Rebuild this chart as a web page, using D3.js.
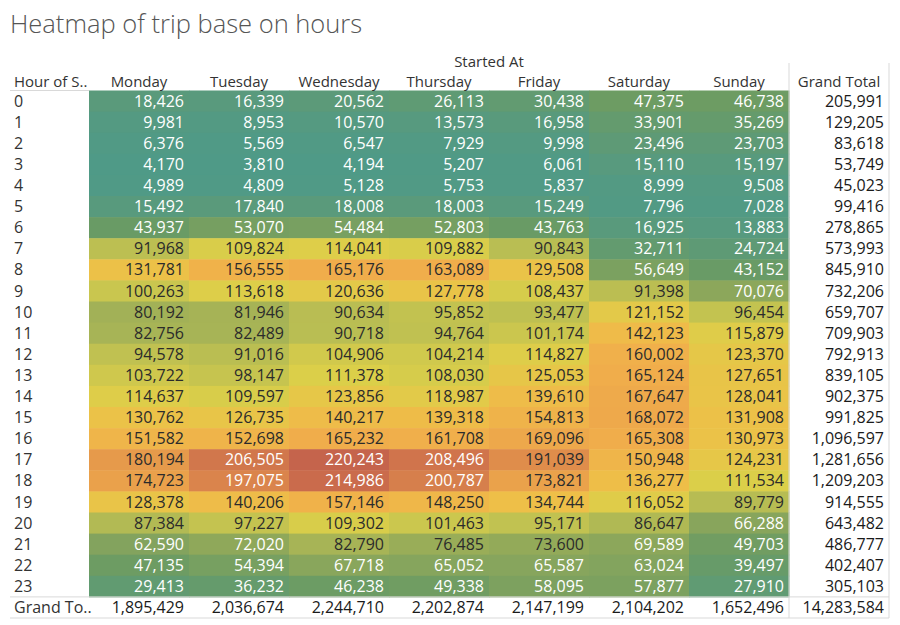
<!DOCTYPE html>
<html>
<head>
<meta charset="utf-8">
<script src="https://cdn.jsdelivr.net/npm/d3@7"></script>
<style>
  body { margin: 0; background: #fff; }
  text { font-family: "Open Sans", "Noto Sans", sans-serif; }
</style>
</head>
<body>
<svg id="chart"></svg>
<script>
var width = 900;
var height = 625;

var days = ["Monday", "Tuesday", "Wednesday", "Thursday", "Friday", "Saturday", "Sunday"];
var hours = d3.range(24).map(String);

var monday = [18426, 9981, 6376, 4170, 4989, 15492, 43937, 91968, 131781, 100263, 80192, 82756, 94578, 103722, 114637, 130762, 151582, 180194, 174723, 128378, 87384, 62590, 47135, 29413];
var tuesday = [16339, 8953, 5569, 3810, 4809, 17840, 53070, 109824, 156555, 113618, 81946, 82489, 91016, 98147, 109597, 126735, 152698, 206505, 197075, 140206, 97227, 72020, 54394, 36232];
var wednesday = [20562, 10570, 6547, 4194, 5128, 18008, 54484, 114041, 165176, 120636, 90634, 90718, 104906, 111378, 123856, 140217, 165232, 220243, 214986, 157146, 109302, 82790, 67718, 46238];
var thursday = [26113, 13573, 7929, 5207, 5753, 18003, 52803, 109882, 163089, 127778, 95852, 94764, 104214, 108030, 118987, 139318, 161708, 208496, 200787, 148250, 101463, 76485, 65052, 49338];
var friday = [30438, 16958, 9998, 6061, 5837, 15249, 43763, 90843, 129508, 108437, 93477, 101174, 114827, 125053, 139610, 154813, 169096, 191039, 173821, 134744, 95171, 73600, 65587, 58095];
var saturday = [47375, 33901, 23496, 15110, 8999, 7796, 16925, 32711, 56649, 91398, 121152, 142123, 160002, 165124, 167647, 168072, 165308, 150948, 136277, 116052, 86647, 69589, 63024, 57877];
var sunday = [46738, 35269, 23703, 15197, 9508, 7028, 13883, 24724, 43152, 70076, 96454, 115879, 123370, 127651, 128041, 131908, 130973, 124231, 111534, 89779, 66288, 49703, 39497, 27910];

var series = [monday, tuesday, wednesday, thursday, friday, saturday, sunday];

// cells
var cells = [];
days.forEach(function (day, i) {
  series[i].forEach(function (v, h) {
    cells.push({ day: day, hour: hours[h], value: v });
  });
});

var rowTotals = hours.map(function (h, j) { return d3.sum(series, function (s) { return s[j]; }); });
var colTotals = series.map(function (s) { return d3.sum(s); });
var grandTotal = d3.sum(colTotals);

var fmt = d3.format(",");
var fs = 16;
var hfs = 15;

var svg = d3.select("#chart")
  .attr("width", width)
  .attr("height", height);

var x = d3.scaleBand()
  .domain(days.concat(["Grand Total"]))
  .range([89, 889]);

var y = d3.scaleBand()
  .domain(hours.concat(["Grand Total"]))
  .range([90.5, 618]);

var extent = d3.extent(cells, function (d) { return d.value; });
var color = d3.scaleLinear()
  .domain([extent[0], 45000, 72000, 92000, 112000, 135000, 165000, 190000, extent[1]])
  .range(["#4f9a87", "#6a9b64", "#8fa85a", "#bcbf52", "#dccf49", "#eebf48", "#f0ad4b", "#e08e4b", "#c5644c"])
  .interpolate(d3.interpolateLab);

function textColor(v) {
  var c = d3.rgb(color(v));
  var lum = 0.299 * c.r + 0.587 * c.g + 0.114 * c.b;
  return lum < 152 ? "#ffffff" : "#2b2b2b";
}

// title
svg.append("text")
  .attr("x", 10)
  .attr("y", 33)
  .attr("font-size", 25.5)
  .attr("font-weight", 300)
  .attr("fill", "#555")
  .text("Heatmap of trip base on hours");

svg.append("text")
  .attr("x", x("Monday") + 8 * x.bandwidth() / 2)
  .attr("y", 67)
  .attr("text-anchor", "middle")
  .attr("font-size", hfs)
  .attr("fill", "#333")
  .text("Started At");

// heat cells
svg.append("g")
  .selectAll("rect")
  .data(cells)
  .enter()
  .append("rect")
  .attr("x", d => x(d.day))
  .attr("y", d => y(d.hour))
  .attr("width", x.bandwidth() + 0.5)
  .attr("height", y.bandwidth() + 0.5)
  .attr("fill", d => color(d.value));

svg.append("g")
  .selectAll("text")
  .data(cells)
  .enter()
  .append("text")
  .attr("x", d => x(d.day) + x.bandwidth() - 5)
  .attr("y", d => y(d.hour) + y.bandwidth() / 2)
  .attr("dy", "0.35em")
  .attr("text-anchor", "end")
  .attr("font-size", fs)
  .attr("fill", d => textColor(d.value))
  .text(d => fmt(d.value));

// lines
var lineColor = "#d9d9d9";
var lines = svg.append("g").attr("stroke", lineColor).attr("stroke-width", 1);
lines.append("line").attr("x1", 10).attr("x2", 89).attr("y1", y("0")).attr("y2", y("0"));
lines.append("line").attr("x1", 10).attr("x2", 889).attr("y1", y("Grand Total")).attr("y2", y("Grand Total"));
lines.append("line").attr("x1", 10).attr("x2", 889).attr("y1", 618).attr("y2", 618);
lines.append("line").attr("x1", x("Grand Total")).attr("x2", x("Grand Total")).attr("y1", 63).attr("y2", 618);
lines.append("line").attr("x1", 889).attr("x2", 889).attr("y1", 63).attr("y2", 618);

// column headers
svg.append("text")
  .attr("x", 14)
  .attr("y", y("0") - 4)
  .attr("font-size", hfs)
  .attr("fill", "#333")
  .text("Hour of S..");

svg.append("g")
  .selectAll("text")
  .data(days.concat(["Grand Total"]))
  .enter()
  .append("text")
  .attr("x", d => x(d) + x.bandwidth() / 2)
  .attr("y", y("0") - 4)
  .attr("text-anchor", "middle")
  .attr("font-size", hfs)
  .attr("fill", "#333")
  .text(d => d);

// row labels
svg.append("g")
  .selectAll("text")
  .data(hours.concat(["Grand To.."]))
  .enter()
  .append("text")
  .attr("x", 14)
  .attr("y", (d, i) => y(y.domain()[i]) + y.bandwidth() / 2)
  .attr("dy", "0.35em")
  .attr("font-size", fs)
  .attr("fill", "#333")
  .text(d => d);

// grand totals
svg.append("g")
  .selectAll("text")
  .data(rowTotals)
  .enter()
  .append("text")
  .attr("x", x("Grand Total") + x.bandwidth() - 5)
  .attr("y", (d, i) => y(hours[i]) + y.bandwidth() / 2)
  .attr("dy", "0.35em")
  .attr("text-anchor", "end")
  .attr("font-size", fs)
  .attr("fill", "#1a1a1a")
  .text(d => fmt(d));

svg.append("g")
  .selectAll("text")
  .data(colTotals.concat([grandTotal]))
  .enter()
  .append("text")
  .attr("x", (d, i) => x(x.domain()[i]) + x.bandwidth() - 5)
  .attr("y", y("Grand Total") + y.bandwidth() / 2)
  .attr("dy", "0.35em")
  .attr("text-anchor", "end")
  .attr("font-size", fs)
  .attr("fill", "#1a1a1a")
  .text(d => fmt(d));
</script>
</body>
</html>
